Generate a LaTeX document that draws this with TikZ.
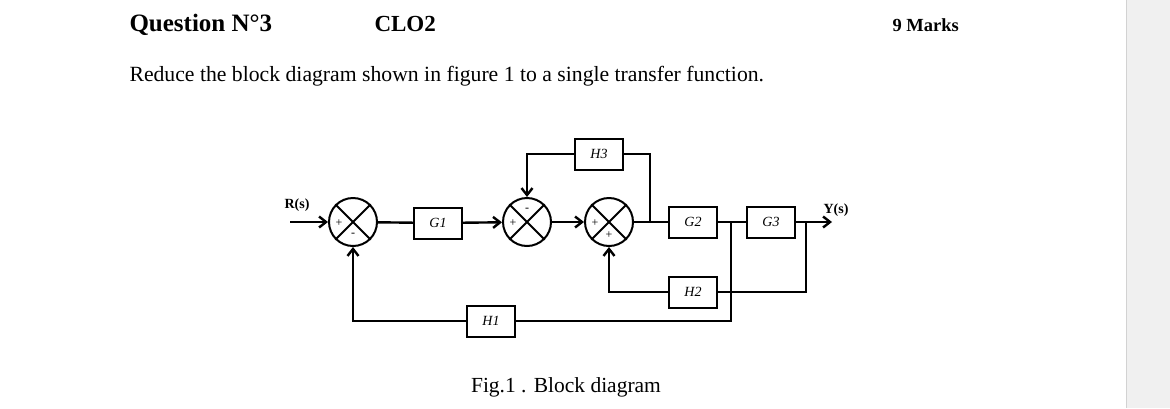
\documentclass[tikz,border=0pt]{standalone}
\usepackage{fontspec}
\setmainfont{Liberation Serif}
\usetikzlibrary{arrows.meta,calc}
\begin{document}
\begin{tikzpicture}[x=1pt,y=-1pt,
  blk/.style={draw,line width=2pt,minimum width=48pt,minimum height=31pt,inner sep=0pt,font=\fontsize{14}{14}\selectfont\itshape},
  sum/.style={draw,circle,line width=2pt,minimum size=48pt,inner sep=0pt},
  ln/.style={line width=2.4pt},
  ar/.style={ln,-{Straight Barb[length=7pt,width=11pt,line width=2.4pt]}},
  sg/.style={font=\fontsize{12}{12}\selectfont,inner sep=0pt}]
\useasboundingbox (0,0) rectangle (1170,408);
\fill[white] (0,0) rectangle (1170,408);
\fill[gray!12] (1126,0) rectangle (1170,408);
\draw[gray!35,line width=1pt] (1126,0) -- (1126,408);
\node[anchor=base west,font=\fontsize{25}{25}\selectfont\bfseries] (q) at (126,31) {Question N°3};
\node[anchor=base west,font=\fontsize{23}{23}\selectfont\bfseries] (clo) at (371,31) {CLO2};
\node[anchor=base west,font=\fontsize{18.5}{18.5}\selectfont\bfseries] (mk) at (889,31) {9 Marks};
\node[anchor=base west,font=\fontsize{21.7}{21.7}\selectfont] (txt) at (126,81) {Reduce the block diagram shown in figure 1 to a single transfer function.};
\node[anchor=base,font=\fontsize{21.5}{21.5}\selectfont] (cap) at (566,392) {Fig.1 . Block diagram};
% sums
\foreach \n/\x in {s1/353,s2/527,s3/609}{
  \node[sum] (\n) at (\x,222) {};
  \draw[line width=2pt] (\n.45) -- (\n.225) (\n.135) -- (\n.315);
}
\node[blk] (g1) at (438,223) {G1};
\node[blk] (h3) at (599,154) {H3};
\node[blk] (g2) at (693,222) {G2};
\node[blk] (g3) at (771,222) {G3};
\node[blk] (h2) at (693,292) {H2};
\node[blk] (h1) at (491,321) {H1};
\node[sg] at ($(s1)+(-14,1)$) {+};
\node[sg] at ($(s1)+(0,13)$) {-};
\node[sg] at ($(s2)+(-14,1)$) {+};
\node[sg] at ($(s2)+(0,-12)$) {-};
\node[sg] at ($(s3)+(-14,1)$) {+};
\node[sg] at ($(s3)+(0,13)$) {+};
\node[font=\fontsize{14}{14}\selectfont\bfseries] (r) at (297,205) {R(s)};
\node[font=\fontsize{14}{14}\selectfont\bfseries] (y) at (836,210) {Y(s)};
\coordinate (rin) at (290,222);
\coordinate (yout) at (832,222);
\coordinate (j1) at (650,222);
\coordinate (j2) at (731,222);
\coordinate (j3) at (806,222);
\draw[ar] (rin) -- (s1);
\draw[ln] (s1) -- (g1);
\draw[ar] (g1) -- (s2);
\draw[ar] (s2) -- (s3);
\draw[ln] (s3) -- (g2);
\draw[ln] (g2) -- (g3);
\draw[ar] (g3) -- (yout);
\draw[ar] (h3.west) -| (s2.north);
\draw[ln] (h3.east) -| (j1);
\draw[ln] (j3) |- (h2.east);
\draw[ar] (h2.west) -| (s3.south);
\draw[ln] (j2) |- (h1.east);
\draw[ar] (h1.west) -| (s1.south);
\end{tikzpicture}
\end{document}
